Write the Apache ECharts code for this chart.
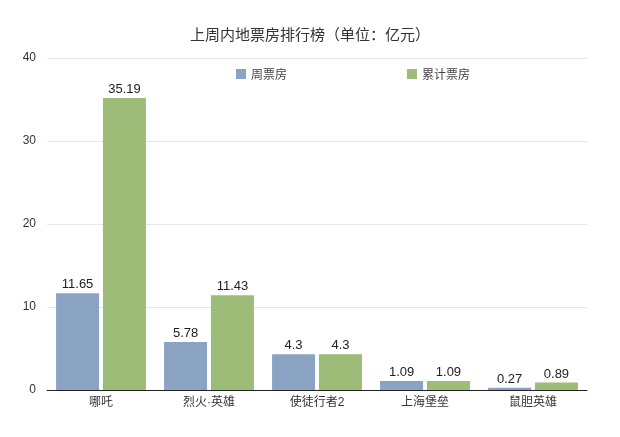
<!DOCTYPE html>
<html>
<head>
<meta charset="utf-8">
<script src="https://cdn.jsdelivr.net/npm/echarts@6/dist/echarts.min.js"></script>
<style>html,body{margin:0;padding:0;background:#fff}#c{width:620px;height:437px}</style>
</head>
<body>
<div id="c"></div>
<script>
const categories = ['哪吒', '烈火·英雄', '使徒行者2', '上海堡垒', '鼠胆英雄'];
const weekly = [11.65, 5.78, 4.3, 1.09, 0.27];
const total = [35.19, 11.43, 4.3, 1.09, 0.89];
const yTicks = [0, 10, 20, 30, 40];
const titleText = '上周内地票房排行榜（单位：亿元）';
const seriesNames = ['周票房', '累计票房'];

const chart = echarts.init(document.getElementById('c'));
const font = '"Noto Sans CJK SC", "Liberation Sans", sans-serif';
chart.setOption({
  backgroundColor: '#fff',
  animation: false,
  title: {
    text: titleText, left: 'center', top: 22,
    textStyle: {fontSize: 15, fontWeight: 'normal', color: '#333', fontFamily: font}
  },
  legend: {
    top: 63, left: 231, itemGap: 120, itemWidth: 10, itemHeight: 10,
    icon: 'rect',
    textStyle: {fontSize: 12, color: '#444', fontFamily: font},
    data: seriesNames
  },
  grid: {left: 47, right: 33, top: 58, bottom: 47},
  xAxis: {
    type: 'category', data: categories,
    axisLine: {lineStyle: {color: '#222', width: 1}},
    axisTick: {show: false},
    axisLabel: {fontSize: 12, color: '#333', margin: 7, fontFamily: '"Liberation Sans", "Noto Sans CJK SC", sans-serif'}
  },
  yAxis: {
    type: 'value', min: yTicks[0], max: yTicks[yTicks.length - 1], interval: 10,
    axisLine: {show: false}, axisTick: {show: false},
    axisLabel: {fontSize: 12, color: '#333', margin: 11, fontFamily: '"Liberation Sans", sans-serif'},
    splitLine: {lineStyle: {color: '#e6e6e6'}}
  },
  series: [
    {
      name: seriesNames[0], type: 'bar', data: weekly,
      barWidth: 43, barGap: '9%',
      itemStyle: {color: '#8aa3c3'},
      label: {show: true, position: 'top', fontSize: 13, color: '#222', distance: 2, fontFamily: '"Liberation Sans", sans-serif'}
    },
    {
      name: seriesNames[1], type: 'bar', data: total,
      barWidth: 43,
      itemStyle: {color: '#9dbc78'},
      label: {show: true, position: 'top', fontSize: 13, color: '#222', distance: 2, fontFamily: '"Liberation Sans", sans-serif'}
    }
  ]
});
</script>
</body>
</html>
